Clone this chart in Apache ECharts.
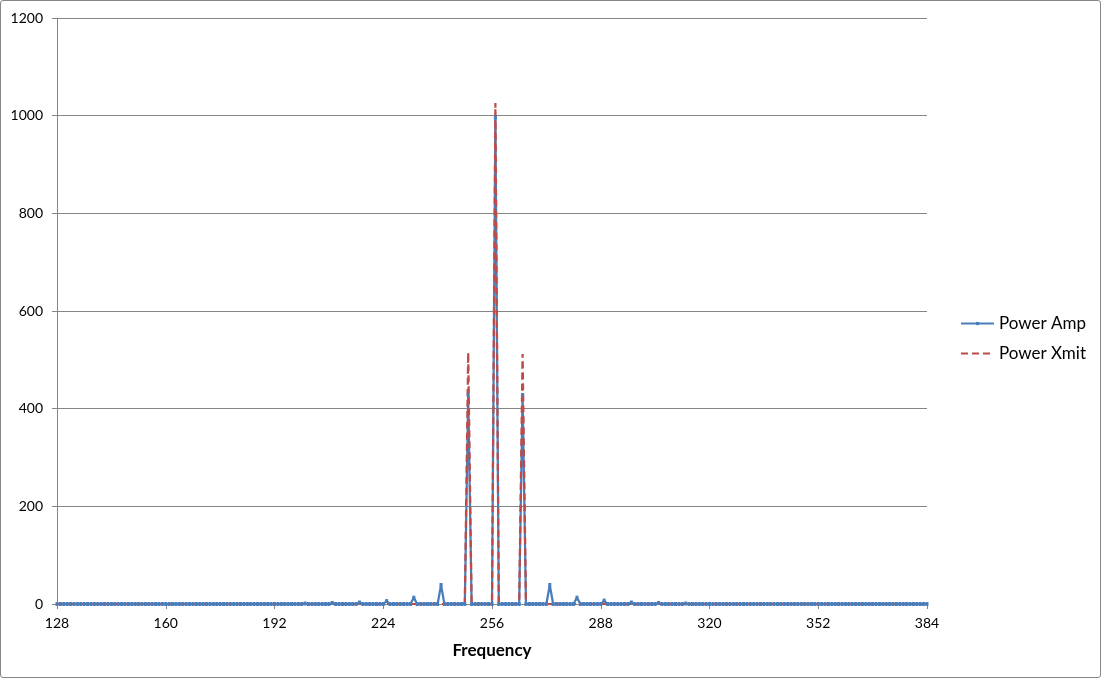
<!DOCTYPE html>
<html>
<head>
<meta charset="utf-8">
<script src="https://cdn.jsdelivr.net/npm/echarts@6/dist/echarts.min.js"></script>
<style>
  html, body { margin: 0; padding: 0; background: #fff; }
  #frame { position: absolute; left: 0; top: 0; width: 1099px; height: 676px; border: 1px solid #868686; border-radius: 3px; }
  #chart { width: 1101px; height: 678px; }
</style>
</head>
<body>
<div id="frame"></div>
<div id="chart"></div>
<script>
// Frequencies (x values), 128..384
var frequencies = [
  128,129,130,131,132,133,134,135,136,137,138,139,140,141,142,143,
  144,145,146,147,148,149,150,151,152,153,154,155,156,157,158,159,
  160,161,162,163,164,165,166,167,168,169,170,171,172,173,174,175,
  176,177,178,179,180,181,182,183,184,185,186,187,188,189,190,191,
  192,193,194,195,196,197,198,199,200,201,202,203,204,205,206,207,
  208,209,210,211,212,213,214,215,216,217,218,219,220,221,222,223,
  224,225,226,227,228,229,230,231,232,233,234,235,236,237,238,239,
  240,241,242,243,244,245,246,247,248,249,250,251,252,253,254,255,
  256,257,258,259,260,261,262,263,264,265,266,267,268,269,270,271,
  272,273,274,275,276,277,278,279,280,281,282,283,284,285,286,287,
  288,289,290,291,292,293,294,295,296,297,298,299,300,301,302,303,
  304,305,306,307,308,309,310,311,312,313,314,315,316,317,318,319,
  320,321,322,323,324,325,326,327,328,329,330,331,332,333,334,335,
  336,337,338,339,340,341,342,343,344,345,346,347,348,349,350,351,
  352,353,354,355,356,357,358,359,360,361,362,363,364,365,366,367,
  368,369,370,371,372,373,374,375,376,377,378,379,380,381,382,383,
  384
];

// Power Amp values (one per frequency)
var powerAmp = [
  0,0,0,0,0,0,0,0,0,0,0,0,0,0,0,0,
  0,0,0,0,0,0,0,0,0,0,0,0,0,0,0,0,
  0,0,0,0,0,0,0,0,0,0,0,0,0,0,0,0,
  0,0,0,0,0,0,0,0,0,0,0,0,0,0,0,0,
  0,0,0,0,0,0,0,0,0,1,0,0,0,0,0,0,
  0,2,0,0,0,0,0,0,0,3,0,0,0,0,0,0,
  0,6,0,0,0,0,0,0,0,13,0,0,0,0,0,0,
  0,39,0,0,0,0,0,0,0,428,0,0,0,0,0,0,
  0,996,0,0,0,0,0,0,0,428,0,0,0,0,0,0,
  0,39,0,0,0,0,0,0,0,13,0,0,0,0,0,0,
  0,7,0,0,0,0,0,0,0,3,0,0,0,0,0,0,
  0,2,0,0,0,0,0,0,0,1,0,0,0,0,0,0,
  0,0,0,0,0,0,0,0,0,0,0,0,0,0,0,0,
  0,0,0,0,0,0,0,0,0,0,0,0,0,0,0,0,
  0,0,0,0,0,0,0,0,0,0,0,0,0,0,0,0,
  0,0,0,0,0,0,0,0,0,0,0,0,0,0,0,0,
  0
];

// Power Xmit values (one per frequency)
var powerXmit = [
  0,0,0,0,0,0,0,0,0,0,0,0,0,0,0,0,
  0,0,0,0,0,0,0,0,0,0,0,0,0,0,0,0,
  0,0,0,0,0,0,0,0,0,0,0,0,0,0,0,0,
  0,0,0,0,0,0,0,0,0,0,0,0,0,0,0,0,
  0,0,0,0,0,0,0,0,0,0,0,0,0,0,0,0,
  0,0,0,0,0,0,0,0,0,0,0,0,0,0,0,0,
  0,0,0,0,0,0,0,0,0,0,0,0,0,0,0,0,
  0,0,0,0,0,0,0,0,0,515,0,0,0,0,0,0,
  0,1026,0,0,0,0,0,0,0,512,0,0,0,0,0,0,
  0,0,0,0,0,0,0,0,0,0,0,0,0,0,0,0,
  0,0,0,0,0,0,0,0,0,0,0,0,0,0,0,0,
  0,0,0,0,0,0,0,0,0,0,0,0,0,0,0,0,
  0,0,0,0,0,0,0,0,0,0,0,0,0,0,0,0,
  0,0,0,0,0,0,0,0,0,0,0,0,0,0,0,0,
  0,0,0,0,0,0,0,0,0,0,0,0,0,0,0,0,
  0,0,0,0,0,0,0,0,0,0,0,0,0,0,0,0,
  0
];

var seriesNames = ['Power Amp', 'Power Xmit'];
var xTitle = 'Frequency';

function pairs(xs, ys) {
  var out = [];
  for (var i = 0; i < xs.length; i++) out.push([xs[i], ys[i]]);
  return out;
}

var fontFam = 'Lato, "Open Sans", sans-serif';
var chart = echarts.init(document.getElementById('chart'), null, { renderer: 'canvas' });
chart.setOption({
  animation: false,
  backgroundColor: 'transparent',
  grid: { left: 57, right: 174, top: 18, bottom: 74, containLabel: false },
  legend: {
    orient: 'vertical',
    left: 955,
    top: 308,
    padding: 5,
    itemWidth: 33,
    itemHeight: 4,
    itemGap: 9,
    textStyle: { fontFamily: fontFam, fontSize: 17, color: '#000', padding: [0, 0, 0, 0], lineHeight: 21 },
    data: [
      { name: seriesNames[0] },
      { name: seriesNames[1], itemStyle: { opacity: 0 } }
    ]
  },
  xAxis: {
    type: 'value',
    min: 128,
    max: 384,
    interval: 32,
    name: xTitle,
    nameLocation: 'middle',
    nameGap: 38,
    nameTextStyle: { fontFamily: fontFam, fontSize: 17, fontWeight: 'bold', color: '#000' },
    axisLine: { show: true, lineStyle: { color: '#868686', width: 1 } },
    axisTick: { show: true, length: 5, lineStyle: { color: '#868686' } },
    axisLabel: { fontFamily: fontFam, fontSize: 14, color: '#000', margin: 12 },
    splitLine: { show: false }
  },
  yAxis: {
    type: 'value',
    min: 0,
    max: 1200,
    interval: 200,
    axisLine: { show: true, lineStyle: { color: '#868686', width: 1 } },
    axisTick: { show: true, length: 5, lineStyle: { color: '#868686' } },
    axisLabel: { fontFamily: fontFam, fontSize: 14, color: '#000', margin: 14, formatter: function (v) { return String(v); } },
    splitLine: { show: true, lineStyle: { color: '#868686', width: 1 } }
  },
  series: [
    {
      name: seriesNames[0],
      type: 'line',
      data: pairs(frequencies, powerAmp),
      symbol: 'rect',
      symbolSize: [3, 4],
      showAllSymbol: true,
      itemStyle: { color: '#4A7EBB' },
      lineStyle: { color: '#4A7EBB', width: 2.25 }
    },
    {
      name: seriesNames[1],
      type: 'line',
      data: pairs(frequencies, powerXmit),
      symbol: 'none',
      itemStyle: { color: '#BE4B48' },
      lineStyle: { color: '#BE4B48', width: 2.25, type: [7, 4] }
    }
  ]
});
</script>
</body>
</html>
